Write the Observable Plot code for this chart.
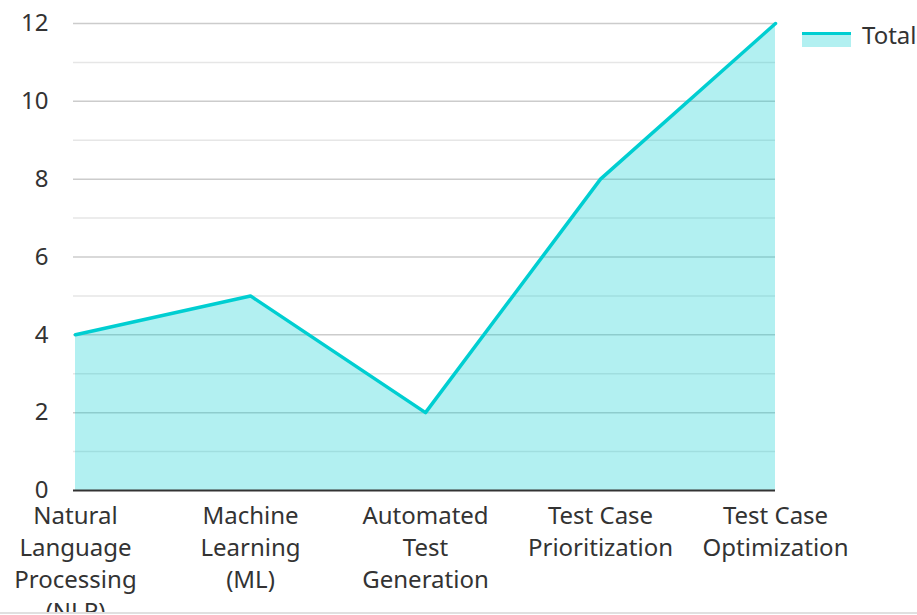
<!DOCTYPE html>
<html>
<head>
<meta charset="utf-8">
<script src="https://cdn.jsdelivr.net/npm/d3@7"></script>
<script src="https://cdn.jsdelivr.net/npm/@observablehq/plot@0.6"></script>
<style>
  html, body { margin: 0; padding: 0; background: #fff; }
  #wrap { position: relative; width: 917px; height: 615px; overflow: hidden; font-family: "Noto Sans", sans-serif; }
  #chart svg { display: block; }
  #bottomline { position: absolute; left: 0; top: 612px; width: 917px; height: 2px; background: #e0e0e0; }
  #legend-sw-line { position: absolute; left: 802px; top: 32px; width: 49px; height: 3px; background: #00ced1; }
  #legend-sw-fill { position: absolute; left: 802px; top: 35px; width: 49px; height: 12px; background: #00ced1; opacity: 0.3; }
  #legend-text { position: absolute; left: 862px; top: 18px; font-size: 24px; line-height: 34px; color: #333; }
</style>
</head>
<body>
<div id="wrap">
  <div id="chart"></div>
  <div id="legend-sw-line"></div>
  <div id="legend-sw-fill"></div>
  <div id="legend-text"></div>
  <div id="bottomline"></div>
</div>
<script>
const categories = [
  "Natural Language Processing (NLP)",
  "Machine Learning (ML)",
  "Automated Test Generation",
  "Test Case Prioritization",
  "Test Case Optimization"
];
const tickLabels = [
  "Natural\nLanguage\nProcessing\n(NLP)",
  "Machine\nLearning\n(ML)",
  "Automated\nTest\nGeneration",
  "Test Case\nPrioritization",
  "Test Case\nOptimization"
];
const totals = [4, 5, 2, 8, 12];
const yMajor = [0, 2, 4, 6, 8, 10, 12];
const yMinor = [1, 3, 5, 7, 9, 11];
const seriesName = "Total";

document.getElementById("legend-text").textContent = seriesName;

const data = categories.map((c, i) => ({category: c, value: totals[i]}));
const labelOf = new Map(categories.map((c, i) => [c, tickLabels[i]]));

const chart = Plot.plot({
  width: 917,
  height: 612,
  marginLeft: 73,
  marginRight: 142,
  marginTop: 23,
  marginBottom: 122,
  style: {fontFamily: "Noto Sans, sans-serif", fontSize: "24px", color: "#333", background: "transparent"},
  x: {type: "point", domain: categories, range: [75, 775], padding: 0},
  y: {domain: [0, 12]},
  marks: [
    Plot.ruleY(yMinor, {stroke: "#e6e6e6", strokeWidth: 1.5, strokeOpacity: 1}),
    Plot.ruleY(yMajor.filter(d => d !== 0), {stroke: "#cccccc", strokeWidth: 1.5, strokeOpacity: 1}),
    Plot.areaY(data, {x: "category", y: "value", fill: "#00ced1", fillOpacity: 0.3}),
    Plot.lineY(data, {x: "category", y: "value", stroke: "#00ced1", strokeWidth: 3.5}),
    Plot.ruleY([0], {stroke: "#333", strokeWidth: 2}),
    Plot.axisY({ticks: yMajor, tickSize: 0, tickPadding: 25, label: null, fontSize: 24, fill: "#333"}),
    Plot.axisX({tickSize: 0, tickPadding: 11, label: null, fontSize: 24, lineHeight: 1.333, fill: "#333",
      tickFormat: d => labelOf.get(d)})
  ]
});
document.getElementById("chart").appendChild(chart);
</script>
</body>
</html>
